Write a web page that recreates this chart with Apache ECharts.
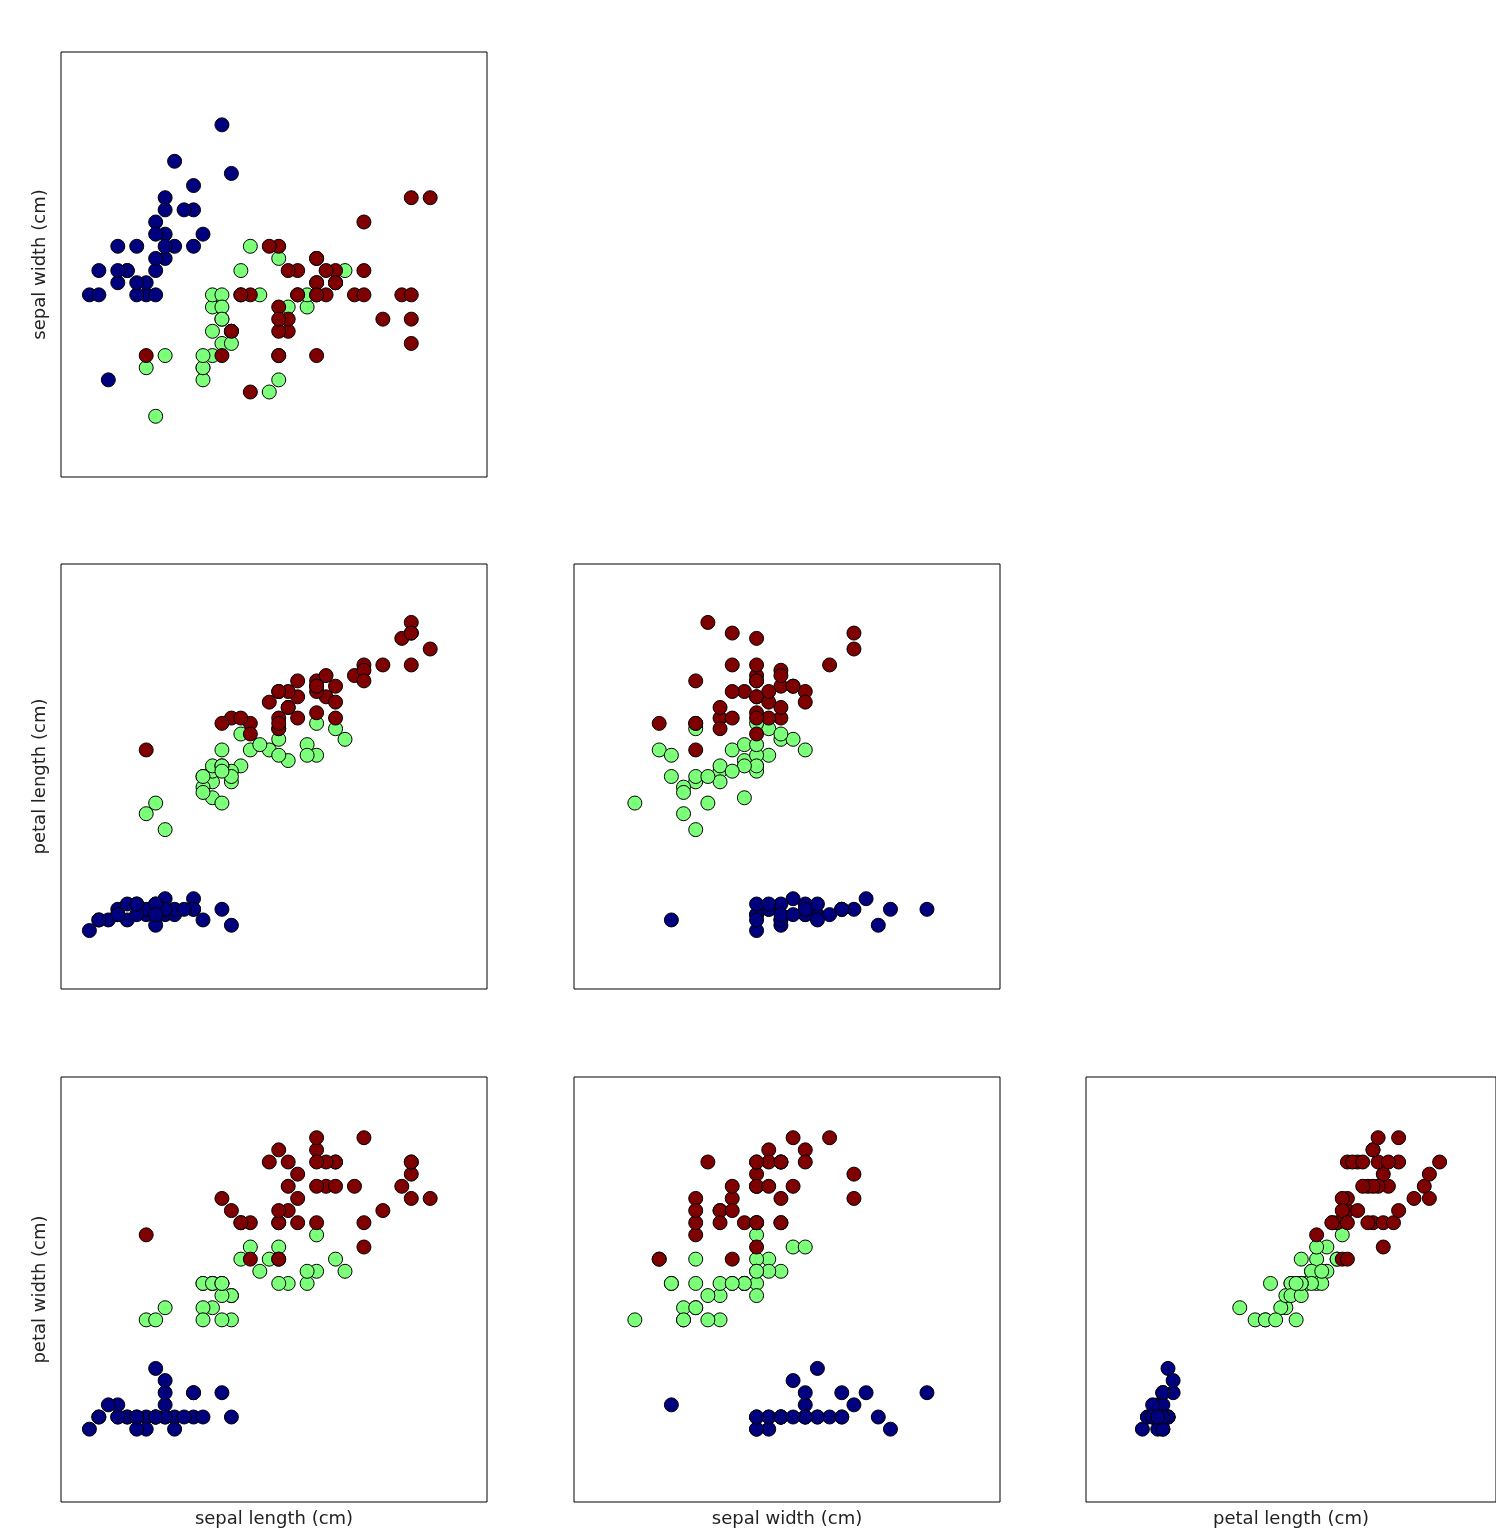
<!DOCTYPE html>
<html>
<head>
<meta charset="utf-8">
<script src="https://cdn.jsdelivr.net/npm/echarts@6/dist/echarts.min.js"></script>
<style>
  html, body { margin: 0; padding: 0; background: #fff; }
  #main { width: 1496px; height: 1534px; }
</style>
</head>
<body>
<div id="main"></div>
<script>
// iris samples shown in the plot (a subset of the data set)
// species: 0 setosa, 1 versicolor, 2 virginica
var species = [
  0,0,0,0,0,0,0,0,0,0,0,0,0,0,0,0,0,0,0,0,0,0,0,0,0,0,0,0,0,0,0,0,0,
  1,1,1,1,1,1,1,1,1,1,1,1,1,1,1,1,1,1,1,1,1,1,1,1,1,1,1,1,1,1,1,1,1,1,
  2,2,2,2,2,2,2,2,2,2,2,2,2,2,2,2,2,2,2,2,2,2,2,2,2,2,2,2,2,2,2,2,2,2,2,2,2,2,2
];
var sepalLength = [
  5.1,4.9,4.7,4.6,5.0,5.4,4.6,4.9,5.4,4.8,4.8,4.3,5.8,5.7,5.1,5.1,5.1,5.0,5.2,4.7,4.8,5.4,5.2,5.0,5.5,4.4,5.1,4.5,4.4,5.0,4.6,5.3,5.0,
  7.0,6.9,5.5,5.7,6.3,4.9,6.6,5.0,5.9,5.6,6.7,5.8,6.2,5.6,5.9,6.3,6.4,6.6,6.7,5.7,5.5,5.5,5.8,6.0,6.3,5.6,5.5,6.1,5.8,5.6,5.7,5.7,5.1,5.7,
  5.8,7.1,6.3,6.5,7.6,4.9,6.7,7.2,6.5,6.4,6.8,5.7,6.4,6.5,7.7,7.7,6.0,6.9,7.7,6.3,6.7,7.2,6.4,7.2,7.4,7.9,6.3,7.7,6.3,6.0,6.9,6.7,6.9,6.8,6.7,6.7,6.3,6.2,5.9
];
var sepalWidth = [
  3.5,3.0,3.2,3.1,3.6,3.9,3.4,3.1,3.7,3.4,3.0,3.0,4.0,4.4,3.8,3.7,3.3,3.0,3.4,3.2,3.1,3.4,4.1,3.2,3.5,3.0,3.4,2.3,3.2,3.5,3.2,3.7,3.3,
  3.2,3.1,2.3,2.8,3.3,2.4,2.9,2.0,3.0,2.9,3.1,2.7,2.2,2.5,3.2,2.5,2.9,3.0,3.0,2.6,2.4,2.4,2.7,3.4,2.3,3.0,2.5,3.0,2.6,2.7,3.0,2.9,2.5,2.8,
  2.7,3.0,2.9,3.0,3.0,2.5,2.5,3.6,3.2,2.7,3.0,2.5,3.2,3.0,3.8,2.6,2.2,3.2,2.8,2.7,3.3,3.2,2.8,3.0,2.8,3.8,2.8,3.0,3.4,3.0,3.1,3.1,3.1,3.2,3.3,3.0,2.5,3.4,3.0
];
var petalLength = [
  1.4,1.4,1.3,1.5,1.4,1.7,1.4,1.5,1.5,1.6,1.4,1.1,1.2,1.5,1.5,1.5,1.7,1.6,1.4,1.6,1.6,1.5,1.5,1.2,1.3,1.3,1.5,1.3,1.3,1.6,1.4,1.5,1.4,
  4.7,4.9,4.0,4.5,4.7,3.3,4.6,3.5,4.2,3.6,4.4,4.1,4.5,3.9,4.8,4.9,4.3,4.4,5.0,3.5,3.8,3.7,3.9,4.5,4.4,4.1,4.0,4.6,4.0,4.2,4.2,4.2,3.0,4.1,
  5.1,5.9,5.6,5.8,6.6,4.5,5.8,6.1,5.1,5.3,5.5,5.0,5.3,5.5,6.7,6.9,5.0,5.7,6.7,4.9,5.7,6.0,5.6,5.8,6.1,6.4,5.1,6.1,5.6,4.8,5.4,5.6,5.1,5.9,5.7,5.2,5.0,5.4,5.1
];
var petalWidth = [
  0.2,0.2,0.2,0.2,0.2,0.4,0.3,0.1,0.2,0.2,0.1,0.1,0.2,0.4,0.3,0.4,0.5,0.2,0.2,0.2,0.2,0.4,0.1,0.2,0.2,0.2,0.2,0.3,0.2,0.6,0.2,0.2,0.2,
  1.4,1.5,1.3,1.3,1.6,1.0,1.3,1.0,1.5,1.3,1.4,1.0,1.5,1.1,1.8,1.5,1.3,1.4,1.7,1.0,1.1,1.0,1.2,1.6,1.3,1.3,1.3,1.4,1.2,1.3,1.2,1.3,1.1,1.3,
  1.9,2.1,1.8,2.2,2.1,1.7,1.8,2.5,2.0,1.9,2.1,2.0,2.3,1.8,2.2,2.3,1.5,2.3,2.0,1.8,2.1,1.8,2.1,1.6,1.9,2.0,1.5,2.3,2.4,1.8,2.1,2.4,2.3,2.3,2.5,2.3,1.9,2.3,1.8
];

var featureNames = ['sepal length (cm)', 'sepal width (cm)', 'petal length (cm)', 'petal width (cm)'];
var features = [sepalLength, sepalWidth, petalLength, petalWidth];
var featureMin = [4.0, 1.5, 0, -0.5];
var featureMax = [8.5, 5.0, 8, 3.0];

var colors = ['#00007f', '#7cff79', '#7f0000'];

// lower triangle: [row, col] -> y feature = row+1, x feature = col
var panels = [[0,0],[1,0],[1,1],[2,0],[2,1],[2,2]];
var colLeft = [61, 574, 1086];
var rowTop = [52, 564, 1077];

var grid = [], xAxis = [], yAxis = [], series = [];
panels.forEach(function (p, i) {
  var row = p[0], col = p[1];
  var xf = col, yf = row + 1;
  grid.push({
    left: colLeft[col], top: rowTop[row], width: 426, height: 425,
    show: true, borderColor: '#000', borderWidth: 1, backgroundColor: '#fff'
  });
  xAxis.push({
    gridIndex: i, type: 'value', min: featureMin[xf], max: featureMax[xf],
    name: row == 2 ? featureNames[xf] : '',
    nameLocation: 'middle', nameGap: 8,
    nameTextStyle: { color: '#222', fontSize: 18, fontFamily: 'DejaVu Sans' },
    axisLine: { show: false }, axisTick: { show: false },
    axisLabel: { show: false }, splitLine: { show: false }
  });
  yAxis.push({
    gridIndex: i, type: 'value', min: featureMin[yf], max: featureMax[yf],
    name: col == 0 ? featureNames[yf] : '',
    nameLocation: 'middle', nameGap: 12, nameRotate: 90,
    nameTextStyle: { color: '#222', fontSize: 18, fontFamily: 'DejaVu Sans' },
    axisLine: { show: false }, axisTick: { show: false },
    axisLabel: { show: false }, splitLine: { show: false }
  });
  for (var c = 0; c < 3; c++) {
    var pts = [];
    for (var k = 0; k < species.length; k++) {
      if (species[k] == c) pts.push([features[xf][k], features[yf][k]]);
    }
    series.push({
      type: 'scatter', xAxisIndex: i, yAxisIndex: i,
      symbolSize: 14, data: pts, silent: true,
      itemStyle: { color: colors[c], borderColor: '#000', borderWidth: 1, opacity: 1 }
    });
  }
});

var myChart = echarts.init(document.getElementById('main'));
myChart.setOption({
  animation: false,
  backgroundColor: '#fff',
  grid: grid,
  xAxis: xAxis,
  yAxis: yAxis,
  series: series
});
</script>
</body>
</html>
